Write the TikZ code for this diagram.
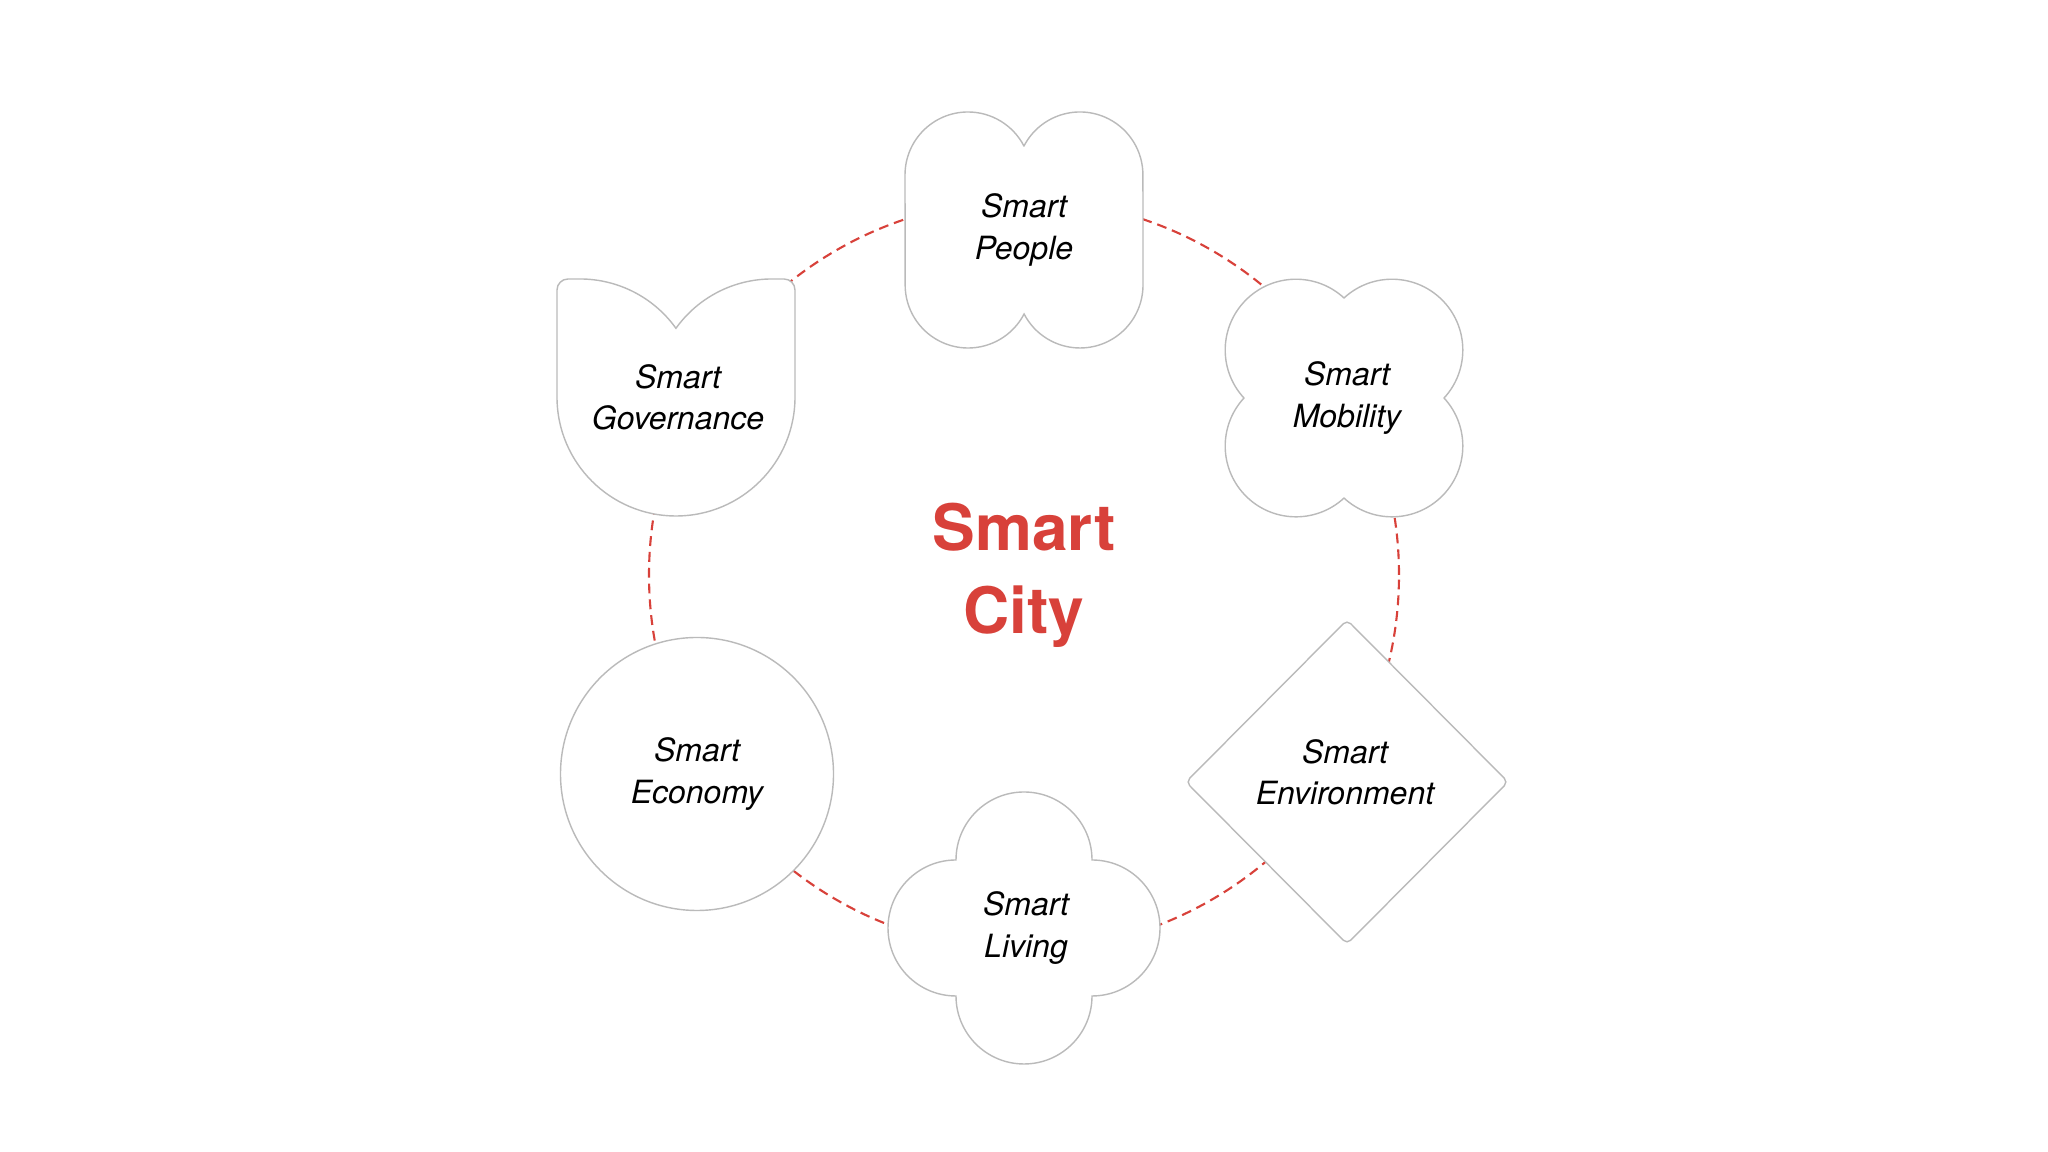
\documentclass[tikz,border=0pt]{standalone}
\usepackage{fontspec}
\setmainfont{TeX Gyre Heros}
\usepackage{tikz}

\definecolor{cityred}{HTML}{D8413A}

\begin{document}
\begin{tikzpicture}[x=0.01cm, y=0.01cm,
  every node/.style={align=center, inner sep=0pt, font=\fontsize{9.1}{11.7}\selectfont\itshape},
  petal/.style={draw=black!27, line width=0.4pt, fill=white},
  ring/.style={draw=cityred, line width=0.6pt, dash pattern=on 2.8pt off 1.7pt}]
  \useasboundingbox (0,0) rectangle (2048,1152);
  \fill[white] (0,0) rectangle (2048,1152);

  \draw[ring] (1024,577) circle[radius=375];

  % people
  \path[petal, shift={(1024,922)}] (0,84) arc[start angle=152.6, end angle=0, radius=63]
    -- (119,-55) arc[start angle=0, end angle=-152.6, radius=63]
    arc[start angle=-27.4, end angle=-180, radius=63]
    -- (-119,55) arc[start angle=180, end angle=27.4, radius=63] -- cycle;
  % governance
  \path[petal, shift={(676,755)}] (-119,0) -- (-119,107) arc[start angle=180, end angle=90, radius=11]
    -- (-96,118) arc[start angle=90, end angle=35.6, radius=118]
    arc[start angle=144.4, end angle=90, radius=118]
    -- (108,118) arc[start angle=90, end angle=0, radius=11]
    -- (119,0) arc[start angle=0, end angle=-180, radius=119] -- cycle;
  % mobility
  \path[petal, shift={(1344,754)}] (0,100) arc[start angle=132.7, end angle=-42.7, radius=70.8]
    arc[start angle=42.7, end angle=-132.7, radius=70.8]
    arc[start angle=-47.3, end angle=-222.7, radius=70.8]
    arc[start angle=222.7, end angle=47.3, radius=70.8] -- cycle;
  % economy
  \path[petal] (697,378) circle[radius=136.5];
  % living
  \path[petal, shift={(1024,224)}] (-68,68) arc[start angle=180, end angle=0, radius=68]
    arc[start angle=90, end angle=-90, radius=68]
    arc[start angle=0, end angle=-180, radius=68]
    arc[start angle=-90, end angle=-270, radius=68] -- cycle;
  % environment
  \path[petal, rounded corners=1.5pt] (1347,532) -- (1508,370) -- (1347,208) -- (1186,370) -- cycle;

  \node (people) at (1024,922) {Smart\\People};
  \node (governance) at (678,755) {Smart\\Governance};
  \node (mobility) at (1347,754) {Smart\\Mobility};
  \node (economy) at (697,378) {Smart\\Economy};
  \node (living) at (1026,224) {Smart\\Living};
  \node (environment) at (1345,380) {Smart\\Environment};
  \node (city) [font=\fontsize{18.2}{23.6}\selectfont\bfseries, text=cityred] at (1024,577) {Smart\\City};
\end{tikzpicture}
\end{document}
